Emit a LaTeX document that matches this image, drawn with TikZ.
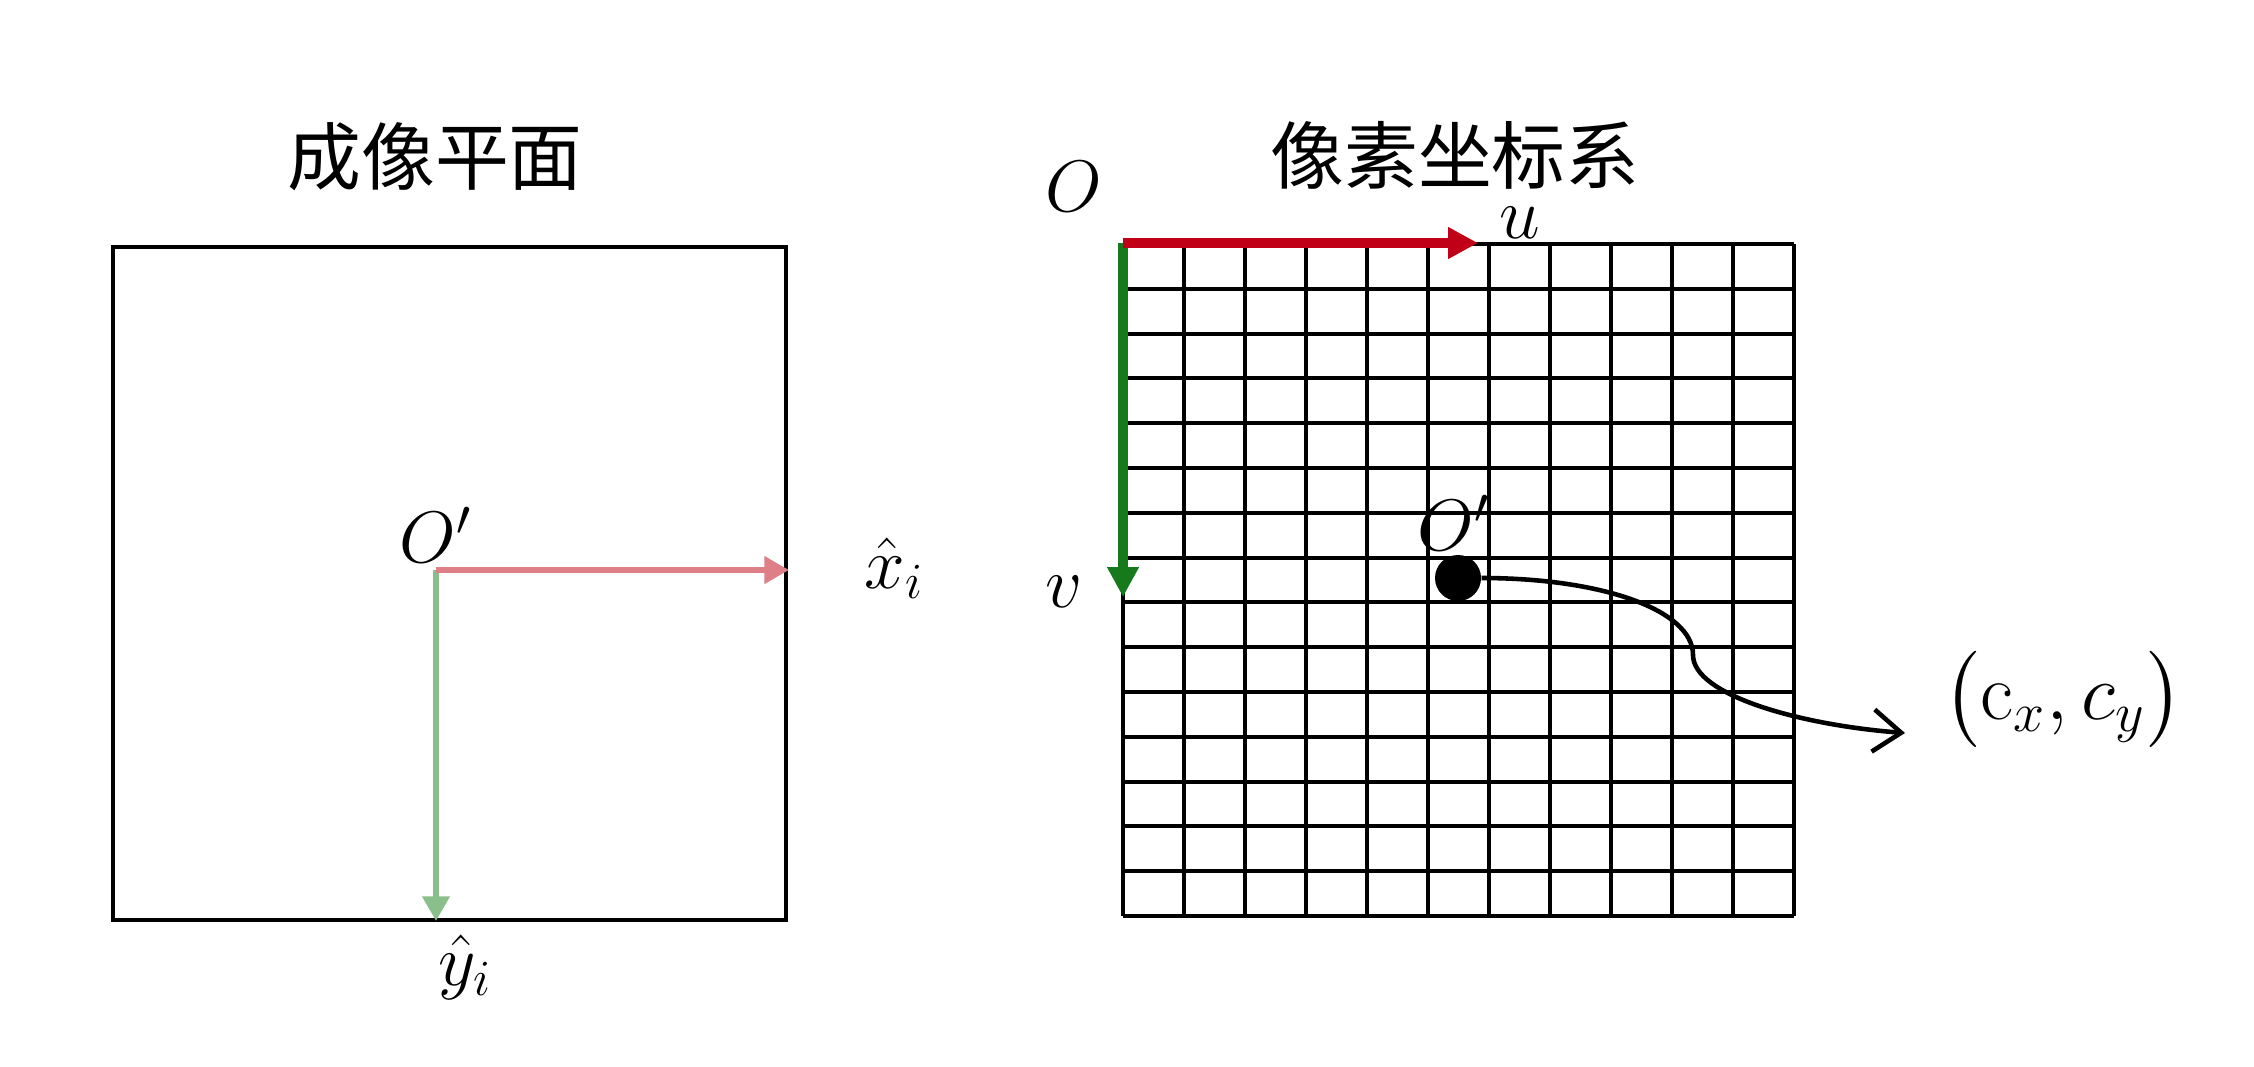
\documentclass[tikz,border=0pt]{standalone}
\usepackage{amsmath}
\usepackage{fontspec}
\usepackage{tikz}
\usetikzlibrary{arrows.meta, positioning}
\newfontfamily\cjk{Noto Sans CJK SC}
\definecolor{axisred}{RGB}{192,0,22}
\definecolor{axisgreen}{RGB}{22,122,28}
\definecolor{lightred}{RGB}{222,127,136}
\definecolor{lightgreen}{RGB}{138,190,138}

\begin{document}
\begin{tikzpicture}[x=0.01cm, y=-0.01cm,
    title/.style={font=\cjk\fontsize{21}{25}\selectfont, inner sep=0pt, text depth=0pt},
    lbl/.style={font=\fontsize{21}{25}\selectfont, inner sep=0pt},
    frame/.style={draw=black, line width=1.1pt},
    cell/.style={draw=black, line width=1.1pt},
    softaxis/.style={line width=1.7pt, -{Triangle[length=7pt, width=7.5pt]}},
    pixaxis/.style={line width=2.8pt, -{Triangle[length=8.5pt, width=8.5pt]}},
    pointer/.style={line width=1.3pt, -{Straight Barb[length=8pt, width=12pt]}}
]
    \useasboundingbox (0,0) rectangle (2254,1066);

    % imaging plane
    \node[title] (plane) at (435,154) {成像平面};
    \draw[frame] (113,247) rectangle (786,920);
    \coordinate (o1) at (436,570);
    \coordinate (x1) at (789,570);
    \coordinate (y1) at (436,921);
    \draw[softaxis, lightgreen] (o1) -- (y1);
    \draw[softaxis, lightred] (o1) -- (x1);
    \node[lbl, anchor=base] (o1lbl) at (436,562) {$O'$};
    \node[lbl, anchor=base west] (xlbl) at (864,588) {$\hat{x}_i$};
    \node[lbl, anchor=base west] (ylbl) at (438,985) {$\hat{y}_i$};

    % pixel coordinates
    \node[title] (pixel) at (1455,152) {像素坐标系};
    \foreach \i in {0,...,11}
        \draw[cell] ({1123+\i*61},244) -- ({1123+\i*61},916);
    \foreach \j in {0,...,15}
        \draw[cell] (1123,{244+\j*44.8}) -- (1794,{244+\j*44.8});
    \coordinate (o2) at (1123,243);
    \coordinate (u2) at (1478,243);
    \coordinate (v2) at (1123,597);
    \draw[pixaxis, axisgreen] (o2) -- (v2);
    \draw[pixaxis, axisred] (o2) -- (u2);
    \node[lbl, anchor=base west] (o2lbl) at (1045,211) {$O$};
    \node[lbl, anchor=base west] (ulbl) at (1499,238) {$u$};
    \node[lbl, anchor=base west] (vlbl) at (1045,607) {$v$};

    % principal point
    \node[circle, fill=black, minimum size=0.46cm, inner sep=0pt] (pp) at (1458,578) {};
    \node[lbl, anchor=base west] (pplbl) at (1417,550) {$O'$};
    \coordinate (bend) at (1693,655);
    \coordinate (tip) at (1905,733);
    \draw[pointer] (pp.east) .. controls +(120,0) and +(0,-45) .. (bend)
        .. controls +(0,40) and +(-105,-8) .. (tip);
    \node[lbl, scale=1.1, transform shape, anchor=base west] (clbl) at (1943,719) {$\bigl(\mathrm{c}_x, c_y\bigr)$};
\end{tikzpicture}
\end{document}
